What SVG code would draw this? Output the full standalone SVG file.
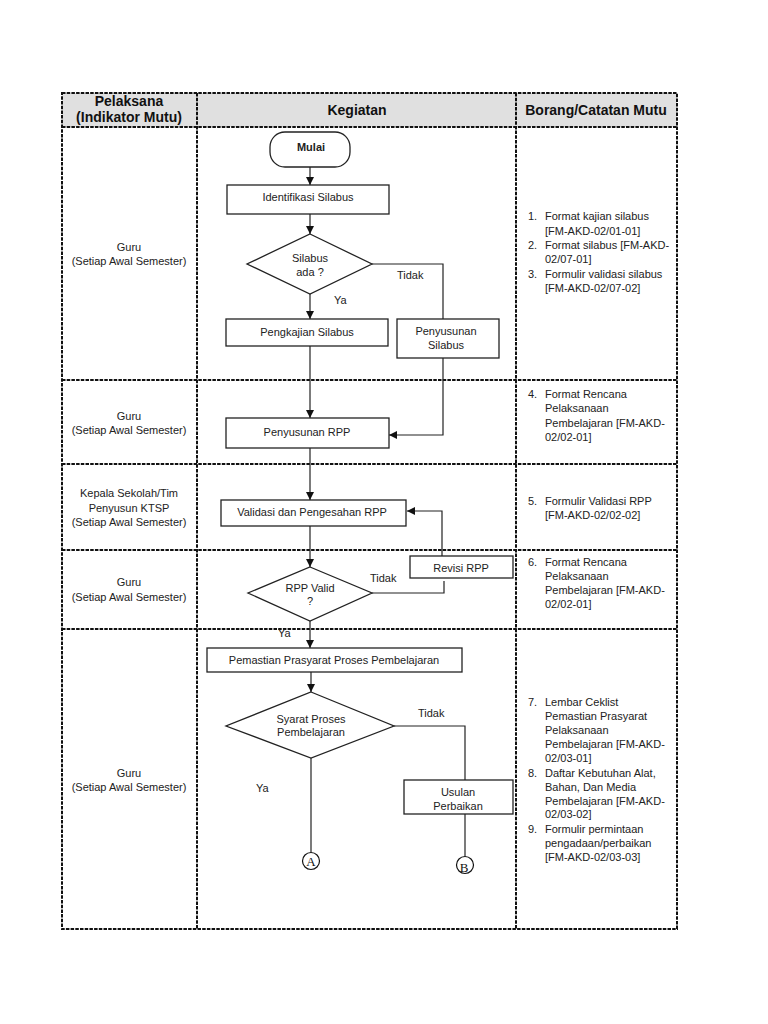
<svg xmlns="http://www.w3.org/2000/svg" width="768" height="1024" viewBox="0 0 768 1024">
<style>
.grid{stroke:#111;stroke-width:2;stroke-dasharray:3.5 1.2;fill:none}
.hdr{font-family:"Liberation Sans",Arial,sans-serif;font-weight:bold;font-size:14px;fill:#111;text-anchor:middle}
.lane{font-family:"Liberation Sans",Arial,sans-serif;font-size:11px;fill:#222;text-anchor:middle}
.doc{font-family:"Liberation Sans",Arial,sans-serif;font-size:11px;fill:#222}
.box{fill:#fff;stroke:#222;stroke-width:1.3}
.t{font-family:"Liberation Sans",Arial,sans-serif;font-size:11px;fill:#222;text-anchor:middle}
.lbl{font-family:"Liberation Sans",Arial,sans-serif;font-size:11px;fill:#222}
.con{fill:none;stroke:#222;stroke-width:1.2}
.circ{font-family:"Liberation Serif","Times New Roman",serif;font-size:13px;fill:#111;text-anchor:middle}
</style>
<defs>
<marker id="ah" viewBox="0 0 10 10" refX="10" refY="5" markerWidth="8" markerHeight="8" markerUnits="userSpaceOnUse" orient="auto">
<path d="M0,0 L10,5 L0,10 z" fill="#111"/>
</marker>
</defs>
<rect width="768" height="1024" fill="#fff"/>

<g id="table">
<rect x="62" y="93" width="615" height="34" fill="#e0e0e0"/>
<rect class="grid" x="62" y="93" width="615" height="836"/>
<line class="grid" x1="197" y1="93" x2="197" y2="929"/>
<line class="grid" x1="516" y1="93" x2="516" y2="929"/>
<line class="grid" x1="62" y1="127" x2="677" y2="127"/>
<line class="grid" x1="62" y1="380" x2="677" y2="380"/>
<line class="grid" x1="62" y1="464" x2="677" y2="464"/>
<line class="grid" x1="62" y1="550" x2="677" y2="550"/>
<line class="grid" x1="62" y1="629" x2="677" y2="629"/>
<text class="hdr" x="129" y="106">Pelaksana</text>
<text class="hdr" x="129" y="122">(Indikator Mutu)</text>
<text class="hdr" x="357" y="115">Kegiatan</text>
<text class="hdr" x="596" y="115">Borang/Catatan Mutu</text>
</g>

<g id="lanes">
<text class="lane" x="129" y="251">Guru</text>
<text class="lane" x="129" y="265">(Setiap Awal Semester)</text>
<text class="lane" x="129" y="420">Guru</text>
<text class="lane" x="129" y="434">(Setiap Awal Semester)</text>
<text class="lane" x="129" y="497">Kepala Sekolah/Tim</text>
<text class="lane" x="129" y="512">Penyusun KTSP</text>
<text class="lane" x="129" y="526">(Setiap Awal Semester)</text>
<text class="lane" x="129" y="586">Guru</text>
<text class="lane" x="129" y="601">(Setiap Awal Semester)</text>
<text class="lane" x="129" y="777">Guru</text>
<text class="lane" x="129" y="791">(Setiap Awal Semester)</text>
</g>

<g id="docs">
<text class="doc" x="528" y="220">1.</text><text class="doc" x="545" y="220">Format kajian silabus</text>
<text class="doc" x="545" y="235">[FM-AKD-02/01-01]</text>
<text class="doc" x="528" y="249">2.</text><text class="doc" x="545" y="249">Format silabus [FM-AKD-</text>
<text class="doc" x="545" y="263">02/07-01]</text>
<text class="doc" x="528" y="278">3.</text><text class="doc" x="545" y="278">Formulir validasi silabus</text>
<text class="doc" x="545" y="292">[FM-AKD-02/07-02]</text>

<text class="doc" x="528" y="398">4.</text><text class="doc" x="545" y="398">Format Rencana</text>
<text class="doc" x="545" y="412">Pelaksanaan</text>
<text class="doc" x="545" y="427">Pembelajaran [FM-AKD-</text>
<text class="doc" x="545" y="441">02/02-01]</text>

<text class="doc" x="528" y="505">5.</text><text class="doc" x="545" y="505">Formulir Validasi RPP</text>
<text class="doc" x="545" y="519">[FM-AKD-02/02-02]</text>

<text class="doc" x="528" y="566">6.</text><text class="doc" x="545" y="566">Format Rencana</text>
<text class="doc" x="545" y="580">Pelaksanaan</text>
<text class="doc" x="545" y="594">Pembelajaran [FM-AKD-</text>
<text class="doc" x="545" y="608">02/02-01]</text>

<text class="doc" x="528" y="706">7.</text><text class="doc" x="545" y="706">Lembar Ceklist</text>
<text class="doc" x="545" y="720">Pemastian Prasyarat</text>
<text class="doc" x="545" y="734">Pelaksanaan</text>
<text class="doc" x="545" y="748">Pembelajaran [FM-AKD-</text>
<text class="doc" x="545" y="762">02/03-01]</text>
<text class="doc" x="528" y="777">8.</text><text class="doc" x="545" y="777">Daftar Kebutuhan Alat,</text>
<text class="doc" x="545" y="791">Bahan, Dan Media</text>
<text class="doc" x="545" y="805">Pembelajaran [FM-AKD-</text>
<text class="doc" x="545" y="818">02/03-02]</text>
<text class="doc" x="528" y="833">9.</text><text class="doc" x="545" y="833">Formulir permintaan</text>
<text class="doc" x="545" y="847">pengadaan/perbaikan</text>
<text class="doc" x="545" y="861">[FM-AKD-02/03-03]</text>
</g>

<g id="connectors">
<line class="con" x1="310" y1="167" x2="310" y2="185" marker-end="url(#ah)"/>
<line class="con" x1="310" y1="214" x2="310" y2="234" marker-end="url(#ah)"/>
<line class="con" x1="310" y1="294" x2="310" y2="319" marker-end="url(#ah)"/>
<polyline class="con" points="372,264 443,264 443,319"/>
<line class="con" x1="310" y1="346" x2="310" y2="418" marker-end="url(#ah)"/>
<polyline class="con" points="443,358 443,435 389,435" marker-end="url(#ah)"/>
<line class="con" x1="310" y1="448" x2="310" y2="500" marker-end="url(#ah)"/>
<line class="con" x1="310" y1="526" x2="310" y2="567" marker-end="url(#ah)"/>
<polyline class="con" points="372,593 444,593 444,581"/>
<polyline class="con" points="442,556 442,511 407,511" marker-end="url(#ah)"/>
<line class="con" x1="310" y1="621" x2="310" y2="648" marker-end="url(#ah)"/>
<line class="con" x1="311" y1="672" x2="311" y2="692" marker-end="url(#ah)"/>
<polyline class="con" points="394,726 465,726 465,780"/>
<line class="con" x1="311" y1="758" x2="311" y2="852"/>
<line class="con" x1="465" y1="814" x2="465" y2="856"/>
<text class="lbl" x="334" y="304">Ya</text>
<text class="lbl" x="397" y="279">Tidak</text>
<text class="lbl" x="370" y="582">Tidak</text>
<text class="lbl" x="278" y="637">Ya</text>
<text class="lbl" x="418" y="717">Tidak</text>
<text class="lbl" x="256" y="792">Ya</text>
</g>

<g id="mulai">
<rect class="box" x="270" y="132" width="80" height="35" rx="15"/>
<text class="t" x="311" y="151" font-weight="bold">Mulai</text>
</g>
<g id="identifikasi">
<rect class="box" x="227" y="185" width="162" height="29"/>
<text class="t" x="308" y="201">Identifikasi Silabus</text>
</g>
<g id="silabus-ada">
<polygon class="box" points="310,234 372,264 310,294 247,264"/>
<text class="t" x="310" y="262">Silabus</text>
<text class="t" x="310" y="276">ada ?</text>
</g>
<g id="pengkajian">
<rect class="box" x="226" y="319" width="162" height="27"/>
<text class="t" x="307" y="336">Pengkajian Silabus</text>
</g>
<g id="penyusunan-silabus">
<rect class="box" x="397" y="319" width="102" height="39"/>
<text class="t" x="446" y="335">Penyusunan</text>
<text class="t" x="446" y="349">Silabus</text>
</g>
<g id="penyusunan-rpp">
<rect class="box" x="226" y="418" width="163" height="30"/>
<text class="t" x="307" y="436">Penyusunan RPP</text>
</g>
<g id="validasi">
<rect class="box" x="221" y="500" width="185" height="26"/>
<text class="t" x="312" y="516">Validasi dan Pengesahan RPP</text>
</g>
<g id="rpp-valid">
<polygon class="box" points="310,567 372,593 310,621 248,593"/>
<text class="t" x="310" y="592">RPP Valid</text>
<text class="t" x="310" y="605">?</text>
</g>
<g id="revisi">
<rect class="box" x="410" y="556" width="103" height="22"/>
<text class="t" x="461" y="572">Revisi RPP</text>
</g>
<g id="pemastian">
<rect class="box" x="207" y="648" width="255" height="24"/>
<text class="t" x="334" y="664">Pemastian Prasyarat Proses Pembelajaran</text>
</g>
<g id="syarat">
<polygon class="box" points="311,692 394,726 311,758 226,726"/>
<text class="t" x="311" y="723">Syarat Proses</text>
<text class="t" x="311" y="736">Pembelajaran</text>
</g>
<g id="usulan">
<rect class="box" x="404" y="780" width="109" height="34"/>
<text class="t" x="458" y="796">Usulan</text>
<text class="t" x="458" y="810">Perbaikan</text>
</g>
<g id="conn-a">
<circle cx="311" cy="861" r="8.5" fill="#fff" stroke="#111" stroke-width="1.2"/>
<text class="circ" x="311" y="866">A</text>
</g>
<g id="conn-b">
<circle cx="465" cy="865" r="8.5" fill="#fff" stroke="#111" stroke-width="1.2"/>
<text class="circ" x="464" y="872">B</text>
</g>
</svg>
